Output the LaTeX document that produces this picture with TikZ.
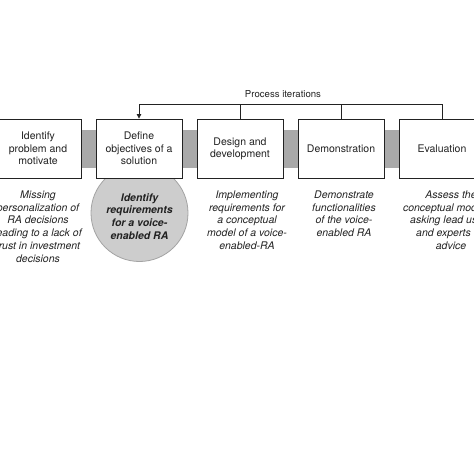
\documentclass[tikz,border=0pt]{standalone}
\usepackage{fontspec}
\setmainfont{TeX Gyre Heros}
\usetikzlibrary{arrows.meta,calc}
\definecolor{ink}{HTML}{222222}
\definecolor{barcol}{HTML}{A9A9A9}
\definecolor{circfill}{HTML}{CDCDCD}
\definecolor{circedge}{HTML}{A3A3A3}
\begin{document}
\begin{tikzpicture}[x=1pt,y=-1pt,
  stepbox/.style={draw=ink,line width=0.9pt,fill=white,minimum width=86pt,minimum height=59pt,
    inner sep=0pt,align=center,text=ink,font=\fontsize{10.5}{12.3}\selectfont},
  note/.style={anchor=north,inner sep=0pt,align=center,text=ink,font=\fontsize{10.5}{12.8}\selectfont\itshape},
  fbline/.style={draw=ink,line width=0.8pt},
  bar/.style={fill=barcol}]
\useasboundingbox (0,0) rectangle (474,474);
\clip (0,0) rectangle (474,474);
% positions of boxes
\coordinate (c1) at (38,148.5);
\coordinate (c2) at (139,148.5);
\coordinate (c3) at (240,148.5);
\coordinate (c4) at (341,148.5);
\coordinate (c5) at (442,148.5);
% grey connecting bars
\fill[bar] ($(c1)+(0,-19)$) rectangle ($(c5)+(0,19)$);
% highlighted circle
\node[circle,draw=circedge,line width=0.8pt,fill=circfill,minimum size=97pt,inner sep=0pt] (circ) at (139.5,213) {};
% boxes
\node[stepbox] (b1) at (c1) {Identify\\problem and\\motivate};
\node[stepbox] (b2) at (c2) {Define\\objectives of a\\solution};
\node[stepbox] (b3) at (c3) {Design and\\development};
\node[stepbox] (b4) at (c4) {Demonstration};
\node[stepbox] (b5) at (c5) {Evaluation};
% feedback loop
\coordinate (fb) at (139,104);
\draw[fbline] (b5.north) -- (b5.north |- fb) -- (fb);
\draw[fbline,-{Triangle[length=4.5pt,width=4.5pt]}] (fb) -- (b2.north);
\draw[fbline] (b3.north) -- (b3.north |- fb);
\draw[fbline] (b4.north) -- (b4.north |- fb);
\node[inner sep=0pt,text=ink,font=\fontsize{9.6}{11}\selectfont] (pi) at (283,94) {Process iterations};
% circle text
\node[inner sep=0pt,align=center,text=ink,font=\fontsize{10.5}{12.7}\selectfont\bfseries\itshape] (ct) at (139.5,216.5)
  {Identify\\requirements\\for a voice-\\enabled RA};
% notes
\node[note] (t1) at (38,190.5) {Missing\\personalization of\\RA decisions\\leading to a lack of\\trust in investment\\decisions};
\node[note] (t3) at (247,190.5) {Implementing\\requirements for\\a conceptual\\model of a voice-\\enabled-RA};
\node[note] (t4) at (344,190.5) {Demonstrate\\functionalities\\of the voice-\\enabled RA};
\node[note] (t5) at (451,190.5) {Assess the\\conceptual model by\\asking lead users\\and experts for\\advice};
\end{tikzpicture}
\end{document}
